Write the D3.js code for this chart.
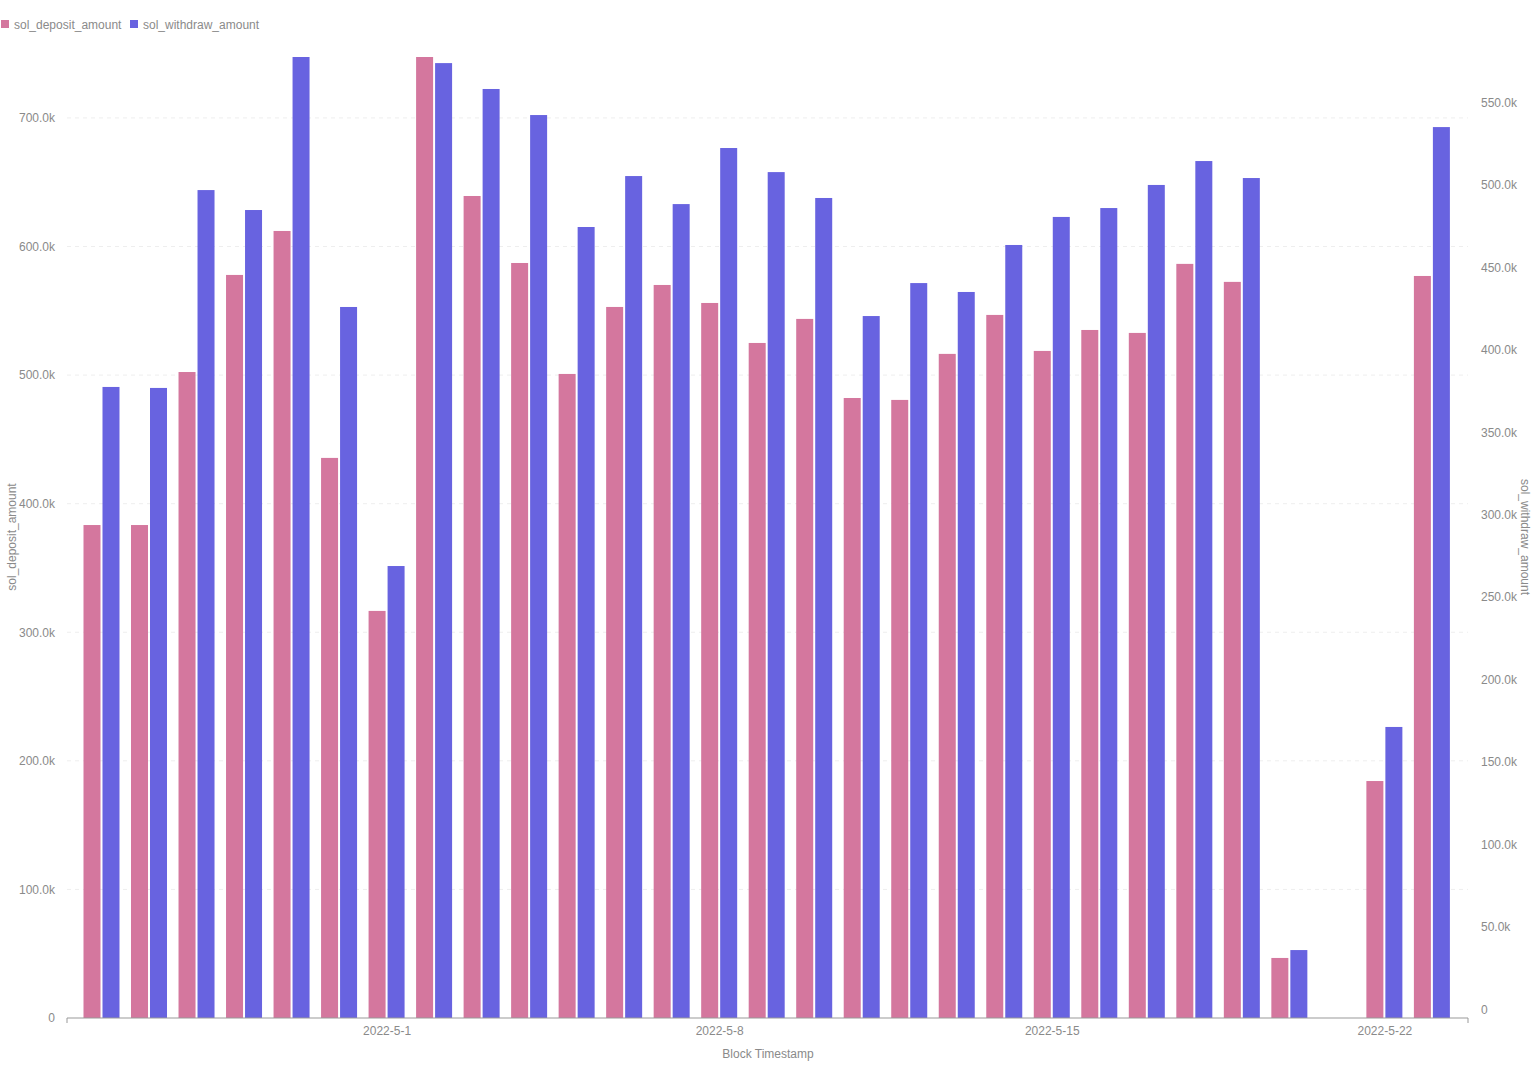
<!DOCTYPE html>
<html><head><meta charset="utf-8">
<script src="https://cdn.jsdelivr.net/npm/d3@7"></script>
<style>body{margin:0;background:#fff;font-family:"Liberation Sans",Arial,sans-serif;}</style>
</head><body><svg id="c" width="1536" height="1080"></svg>
<script>
const dates = ["2022-04-25","2022-04-26","2022-04-27","2022-04-28","2022-04-29","2022-04-30","2022-05-01","2022-05-02","2022-05-03","2022-05-04","2022-05-05","2022-05-06","2022-05-07","2022-05-08","2022-05-09","2022-05-10","2022-05-11","2022-05-12","2022-05-13","2022-05-14","2022-05-15","2022-05-16","2022-05-17","2022-05-18","2022-05-19","2022-05-20","2022-05-22","2022-05-23"];
const deposit = [383.4,383.4,502.4,577.9,612.1,435.6,316.6,747.4,639.3,587.2,500.9,553.0,570.1,556.1,525.0,543.7,482.2,480.7,516.5,546.8,518.8,535.1,532.8,586.5,572.5,46.7,184.3,577.1].map(v => v*1000);
const withdraw = [382.7,382.1,502.1,490.0,582.8,431.2,274.1,579.1,563.4,547.6,479.7,510.6,493.6,527.6,513.0,497.3,425.7,445.7,440.3,468.8,485.8,491.2,505.2,519.7,509.4,41.2,176.5,540.3].map(v => v*1000);
const xTicks = ["2022-05-01","2022-05-08","2022-05-15","2022-05-22"];
const leftTicks = [0,100e3,200e3,300e3,400e3,500e3,600e3,700e3];
const rightTicks = d3.range(0,551e3,50e3);

const pink = "#d4779e", blue = "#6863e0", txt = "#8a8a8a";
const parse = d3.utcParse("%Y-%m-%d");
const day = 864e5;
const svg = d3.select("#c");
const plotTop = 57, plotBottom = 1018, plotLeft = 67, plotRight = 1468;

const x = d3.scaleUtc()
  .domain([new Date(+parse(dates[0]) - 0.726*day), new Date(+parse(dates[dates.length-1]) + 0.76*day)])
  .range([plotLeft, plotRight]);
const yL = d3.scaleLinear().domain([0, d3.max(deposit)]).range([plotBottom, plotTop]);
const yR = d3.scaleLinear().domain([0, d3.max(withdraw)]).range([plotBottom, plotTop]);
const fmt = v => v === 0 ? "0" : (v/1000).toFixed(1) + "k";

// grid
svg.append("g").selectAll("line").data(leftTicks.slice(1)).join("line")
  .attr("x1", plotLeft).attr("x2", plotRight).attr("y1", d => yL(d)).attr("y2", d => yL(d))
  .attr("stroke", "#eee").attr("stroke-dasharray", "4,4");

// bars
const bw = 17;
svg.append("g").selectAll("rect").data(dates).join("rect")
  .attr("x", d => x(parse(d)) - bw - 1).attr("width", bw)
  .attr("y", (d,i) => yL(deposit[i])).attr("height", (d,i) => plotBottom - yL(deposit[i]))
  .attr("fill", pink);
svg.append("g").selectAll("rect").data(dates).join("rect")
  .attr("x", d => x(parse(d)) + 1).attr("width", bw)
  .attr("y", (d,i) => yR(withdraw[i])).attr("height", (d,i) => plotBottom - yR(withdraw[i]))
  .attr("fill", blue);

// x axis
const xa = svg.append("g").attr("transform", `translate(0,${plotBottom})`)
  .call(d3.axisBottom(x).tickValues(xTicks.map(parse)).tickSize(0).tickPadding(8)
    .tickFormat(d3.utcFormat("%Y-%-m-%-d")));
xa.select(".domain").attr("stroke", "#999").attr("d", `M${plotLeft},5V0H${plotRight}V5`);
xa.selectAll("text").attr("fill", txt).attr("font-size", 12).attr("font-family", "inherit");

const ya = svg.append("g").attr("transform", `translate(${plotLeft - 9},0)`)
  .call(d3.axisLeft(yL).tickValues(leftTicks).tickSize(0).tickFormat(fmt));
ya.select(".domain").remove();
ya.selectAll("text").attr("fill", txt).attr("font-size", 12).attr("font-family", "inherit");

const yb = svg.append("g").attr("transform", `translate(${plotRight + 10},0)`)
  .call(d3.axisRight(yR).tickValues(rightTicks).tickSize(0).tickFormat(fmt));
yb.select(".domain").remove();
yb.selectAll("text").attr("fill", txt).attr("font-size", 12).attr("font-family", "inherit")
  .attr("dy", "-0.4em");

// titles
svg.append("text").attr("x", 768).attr("y", 1058).attr("text-anchor", "middle")
  .attr("fill", txt).attr("font-size", 12).text("Block Timestamp");
svg.append("text").attr("transform", "translate(16,537) rotate(-90)").attr("text-anchor", "middle")
  .attr("fill", txt).attr("font-size", 12).text("sol_deposit_amount");
svg.append("text").attr("transform", "translate(1521,537) rotate(90)").attr("text-anchor", "middle")
  .attr("fill", txt).attr("font-size", 12).text("sol_withdraw_amount");

// legend
const leg = [["sol_deposit_amount", pink, 1], ["sol_withdraw_amount", blue, 130]];
leg.forEach(([t, c, lx]) => {
  svg.append("rect").attr("x", lx).attr("y", 20).attr("width", 8).attr("height", 8).attr("fill", c);
  svg.append("text").attr("x", lx + 13).attr("y", 29).attr("fill", txt).attr("font-size", 12).text(t);
});
</script></body></html>
